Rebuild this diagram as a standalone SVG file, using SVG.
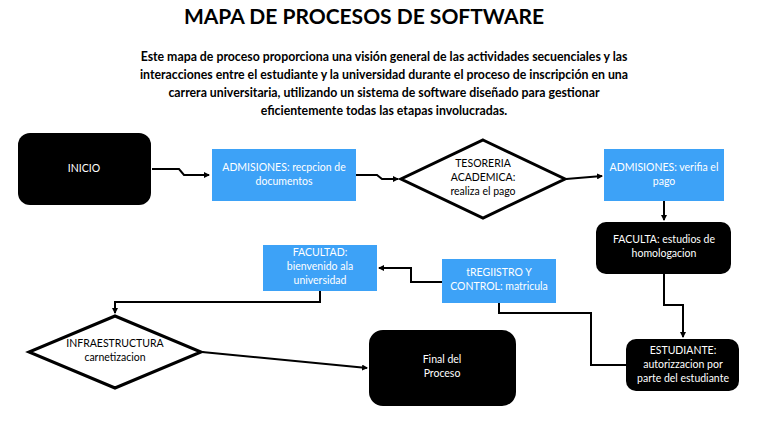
<svg xmlns="http://www.w3.org/2000/svg" width="768" height="431" viewBox="0 0 768 431">
<style>
.t{font-family:Lato,"Open Sans",sans-serif;fill:#fff;font-size:10.5px;text-anchor:middle}
.b{fill:#000}.bl{fill:#3da2f7}.d{fill:#fff;stroke:#000;stroke-width:3}
.dt{font-family:Lato,"Open Sans",sans-serif;fill:#000;font-size:10.5px;text-anchor:middle}
.c{fill:none;stroke:#000;stroke-width:2}
.h{font-family:Lato,"Open Sans",sans-serif;font-weight:bold;text-anchor:middle;fill:#000}
</style>
<defs><marker id="a" markerWidth="6" markerHeight="6" refX="5" refY="3" orient="auto" markerUnits="userSpaceOnUse"><path d="M0,0L6,3L0,6z" fill="#000"/></marker></defs>
<rect width="768" height="431" fill="#fff"/>
<text class="h" x="364" y="24" font-size="21">MAPA DE PROCESOS DE SOFTWARE</text>
<g class="h" font-size="12.3">
<text x="384" y="61">Este mapa de proceso proporciona una visión general de las actividades secuenciales y las</text>
<text x="384" y="79">interacciones entre el estudiante y la universidad durante el proceso de inscripción en una</text>
<text x="384" y="97">carrera universitaria, utilizando un sistema de software diseñado para gestionar</text>
<text x="384" y="115">eficientemente todas las etapas involucradas.</text>
</g>
<g id="connectors">
<path class="c" d="M152,169H179L184,175H209" marker-end="url(#a)"/>
<path class="c" d="M356,175H377L382,179H398" marker-end="url(#a)"/>
<path class="c" d="M566,179L602,176" marker-end="url(#a)"/>
<path class="c" d="M664,201V220" marker-end="url(#a)"/>
<path class="c" d="M664,274V305H683V337" marker-end="url(#a)"/>
<path class="c" d="M626,365H591V313H499V303"/>
<path class="c" d="M442,282H411V268H379" marker-end="url(#a)"/>
<path class="c" d="M320,291V302H115V313" marker-end="url(#a)"/>
<path class="c" d="M202,352L367,368" marker-end="url(#a)"/>
</g>
<g id="inicio"><rect class="b" x="18" y="133" width="133" height="72" rx="12"/><text class="t" x="84" y="172">INICIO</text></g>
<g id="adm1"><rect class="bl" x="212" y="149" width="144" height="52"/><text class="t" x="284" y="171">ADMISIONES: recpcion de</text><text class="t" x="284" y="185">documentos</text></g>
<g id="tesoreria"><path class="d" d="M483,140L565,179L483,218L401,179z"/><text class="dt" x="483" y="167">TESORERIA</text><text class="dt" x="483" y="181">ACADEMICA:</text><text class="dt" x="483" y="195">realiza el pago</text></g>
<g id="adm2"><rect class="bl" x="604" y="149" width="120" height="52"/><text class="t" x="664" y="171">ADMISIONES: verifia el</text><text class="t" x="664" y="185">pago</text></g>
<g id="faculta"><rect class="b" x="596" y="222" width="135" height="52" rx="10"/><text class="t" x="664" y="243">FACULTA: estudios de</text><text class="t" x="664" y="257">homologacion</text></g>
<g id="estudiante"><rect class="b" x="626" y="339" width="113" height="52" rx="10"/><text class="t" x="683" y="354">ESTUDIANTE:</text><text class="t" x="683" y="368">autorizzacion por</text><text class="t" x="683" y="382">parte del estudiante</text></g>
<g id="registro"><rect class="bl" x="442" y="259" width="114" height="44"/><text class="t" x="499" y="276">tREGIISTRO Y</text><text class="t" x="499" y="290">CONTROL: matricula</text></g>
<g id="facultad"><rect class="bl" x="263" y="245" width="114" height="46"/><text class="t" x="320" y="256">FACULTAD:</text><text class="t" x="320" y="270">bienvenido ala</text><text class="t" x="320" y="284">universidad</text></g>
<g id="infra"><path class="d" d="M115,316L201,352L115,388L29,352z"/><text class="dt" x="115" y="347">INFRAESTRUCTURA</text><text class="dt" x="115" y="361">carnetizacion</text></g>
<g id="final"><rect class="b" x="369" y="330" width="147" height="76" rx="14"/><text class="t" x="442" y="363">Final del</text><text class="t" x="442" y="377">Proceso</text></g>
</svg>
